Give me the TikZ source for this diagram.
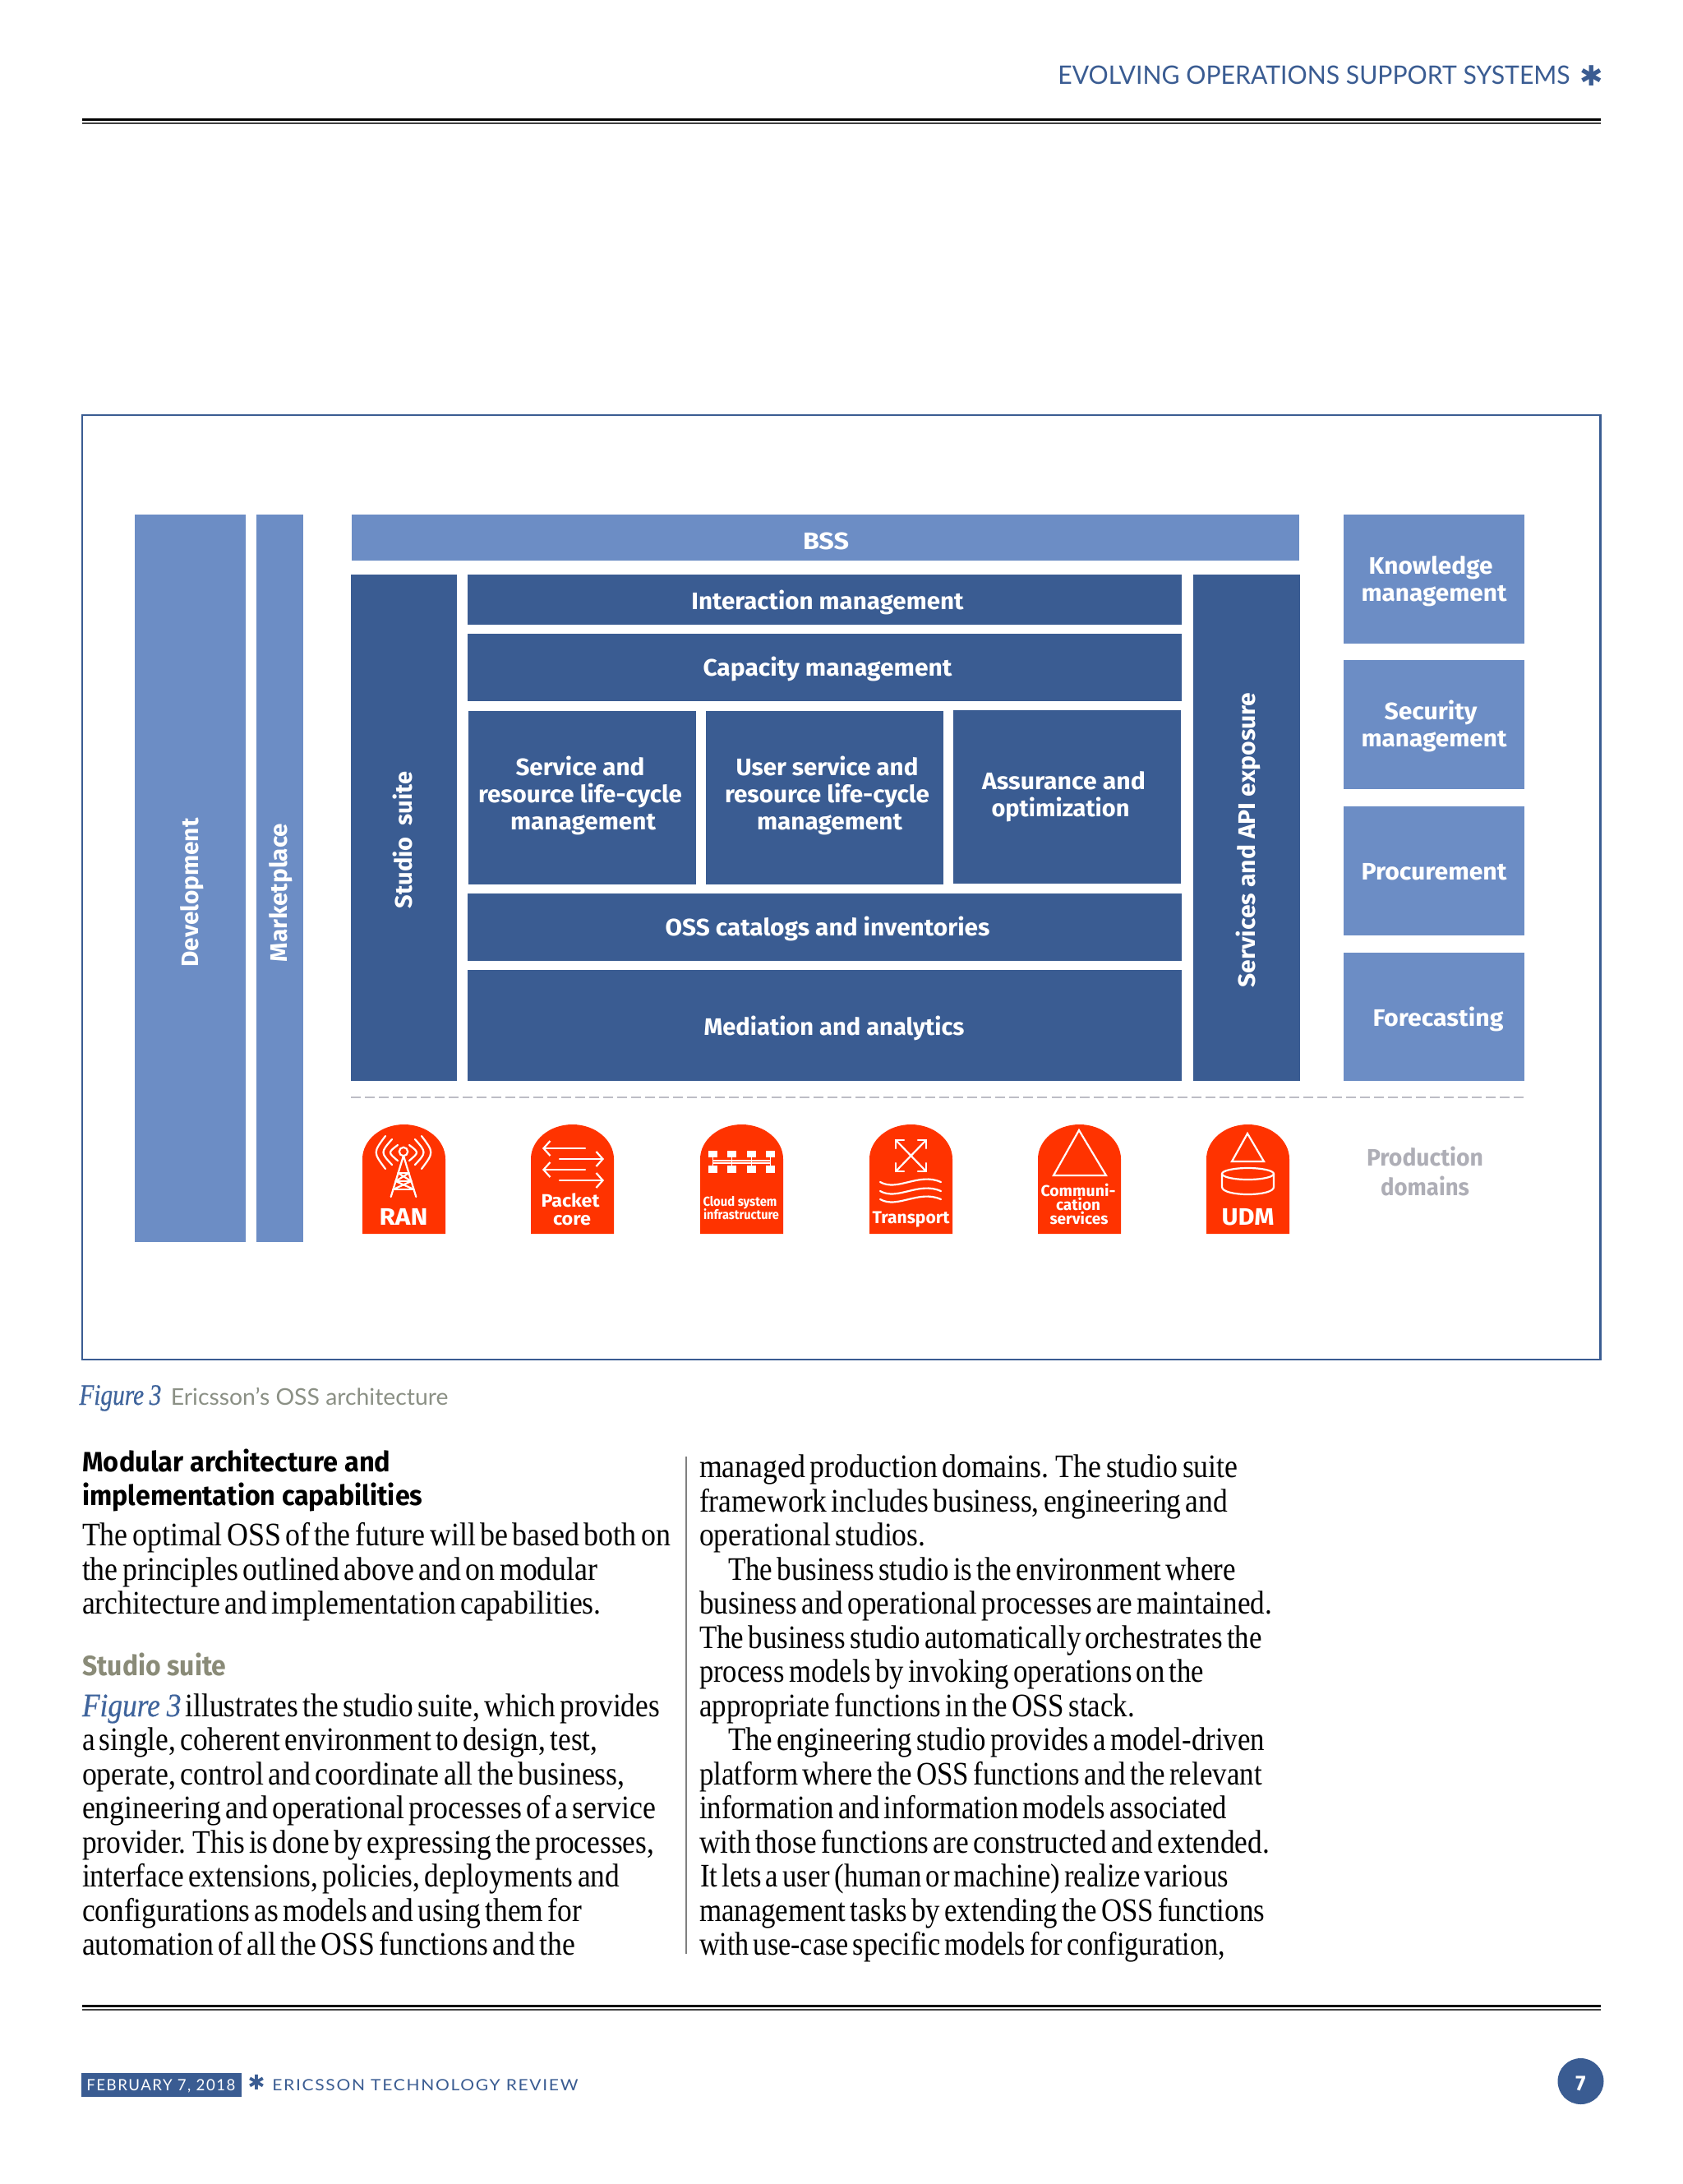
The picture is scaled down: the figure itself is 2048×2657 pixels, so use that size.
\documentclass[tikz,border=0pt]{standalone}
\usepackage{fontspec}
\usepackage{graphicx}
\usetikzlibrary{arrows.meta}
\setmainfont[WordSpace=0.6]{Liberation Serif}
\setsansfont{Lato}
\newfontfamily\spacedsans[LetterSpace=8]{Lato}
\newfontfamily\starfont{DejaVu Sans}
\newfontfamily\headf{Fira Sans}
\newfontfamily\lblf{Fira Sans}
\newfontfamily\figf[ItalicFeatures={FakeBold=0.5},WordSpace=0.9]{Liberation Serif}
\definecolor{darkblue}{HTML}{3A5C92}
\definecolor{lightblue}{HTML}{6C8DC5}
\definecolor{archred}{HTML}{FF3300}
\definecolor{figblue}{HTML}{3F649C}
\definecolor{olive}{HTML}{8A8B78}
\definecolor{capgray}{HTML}{8B9085}
\definecolor{prodgray}{HTML}{AEAEB6}
\definecolor{dashgray}{HTML}{BDBDC5}
\newcommand{\fitw}[2]{\resizebox{\dimexpr#1pt/2\relax}{\height}{#2}}
\newcommand{\bl}[5]{\node[bodytext] (#1) at (#2,#3) {\fitw{#4}{#5}};}
\tikzset{
  darkbox/.style={fill=darkblue,draw=none},
  lightbox/.style={fill=lightblue,draw=none},
  bodytext/.style={anchor=base west,inner sep=0pt,outer sep=0pt,text=black,yshift=-0.75pt,font=\rmfamily\fontsize{20}{20}\selectfont},
  headtext/.style={anchor=base west,inner sep=0pt,font=\headf\bfseries\fontsize{17}{17}\selectfont},
  lbl/.style={anchor=base,inner sep=0pt,text=white,align=center,font=\lblf\bfseries\fontsize{14.5}{16.5}\selectfont},
  vlbl/.style={lbl,rotate=90},
  archlbl/.style={anchor=base,inner sep=0pt,text=white,align=center,font=\lblf\bfseries\fontsize{#1}{#1}\selectfont},
  icon/.style={draw=white,line width=1.1pt,fill=none,line cap=round,line join=miter},
  barb/.style={icon,-{Straight Barb[length=4pt,width=9pt,line width=1.1pt]}},
  archshape/.style={fill=archred,draw=none},
}
\newcommand{\archat}[2]{\fill[archshape,shift={(#1,0)}] (0,1501) -- (0,1410) .. controls (0,1387) and (22.6,1368) .. (50.5,1368) .. controls (78.4,1368) and (101,1387) .. (101,1410) -- (101,1501) -- cycle;}
\begin{document}
\begin{tikzpicture}[x=0.5pt,y=-0.5pt]
\useasboundingbox (0,0) rectangle (2048,2657);
\fill[white] (0,0) rectangle (2048,2657);

% page header
\node[anchor=base west,inner sep=0pt,text=darkblue,font=\sffamily\fontsize{15.5}{15.5}\selectfont] (hdr) at (1287,102) {\fitw{623}{EVOLVING OPERATIONS SUPPORT SYSTEMS}};
\node[inner sep=0pt,text=darkblue,font=\starfont\fontsize{17}{17}\selectfont] (hdrstar) at (1937,92) {✱};
\draw[black,line width=1.5pt] (100,145) -- (1948,145);
\draw[black!75,line width=1pt] (100,150) -- (1948,150);

% figure frame
\draw[darkblue,line width=1.4pt] (100,505) rectangle (1947.5,1654);

% boxes
\fill[lightbox] (164,626) rectangle (299,1511);
\fill[lightbox] (312,626) rectangle (368.5,1511);
\fill[lightbox] (427.5,626) rectangle (1581,682);
\fill[darkbox] (427,699) rectangle (556,1315);
\fill[darkbox] (569,699) rectangle (1437.5,760);
\fill[darkbox] (569,771) rectangle (1437.5,853);
\fill[darkbox] (570,865) rectangle (847,1076);
\fill[darkbox] (859,865) rectangle (1148,1076);
\fill[darkbox] (1160,864) rectangle (1436.5,1075);
\fill[darkbox] (569,1087) rectangle (1437.5,1169);
\fill[darkbox] (569,1180) rectangle (1437.5,1315);
\fill[darkbox] (1452,699) rectangle (1581.5,1315);
\fill[lightbox] (1635,626) rectangle (1854.5,783);
\fill[lightbox] (1635,803) rectangle (1854.5,960);
\fill[lightbox] (1635,981) rectangle (1854.5,1138);
\fill[lightbox] (1635,1159) rectangle (1854.5,1315);

% labels
\node[lbl] (bss) at (1005,668) {\fitw{56}{BSS}};
\node[lbl] (inter) at (1007,741) {\fitw{331}{Interaction management}};
\node[lbl] (cap) at (1007,822) {\fitw{303}{Capacity management}};
\node[lbl] (serv) at (706,1009) {\fitw{157}{Service and}\\\fitw{248}{resource life-cycle}\\\hspace*{3.5pt}\fitw{177}{management}};
\node[lbl] (user) at (1006.5,1009) {\fitw{222}{User service and}\\\fitw{249}{resource life-cycle}\\\hspace*{3pt}\fitw{177}{management}};
\node[lbl] (assur) at (1292,993) {\hspace*{2.5pt}\fitw{199}{Assurance and}\\\fitw{168}{optimization}\hspace*{1.5pt}};
\node[lbl] (oss) at (1007,1138) {\fitw{395}{OSS catalogs and inventories}};
\node[lbl] (med) at (1015,1259.5) {\fitw{317}{Mediation and analytics}};
\node[lbl] (know) at (1745,731) {\fitw{151}{Knowledge}\hspace*{4pt}\\\fitw{177}{management}};
\node[lbl] (sec) at (1745,908) {\fitw{113}{Security}\hspace*{4pt}\\\fitw{177}{management}};
\node[lbl] (proc) at (1745,1070) {\fitw{177}{Procurement}};
\node[lbl] (fore) at (1750,1248) {\fitw{159}{Forecasting}};
\node[vlbl] (dev) at (241.5,1086) {\fitw{181}{Development}};
\node[vlbl] (market) at (349.5,1086) {\fitw{168}{Marketplace}};
\node[vlbl] (studio) at (501,1022) {\fitw{166}{Studio\ \ suite}};
\node[vlbl] (api) at (1527,1022) {\fitw{359}{Services and API exposure}};

% dashed separator
\draw[dashgray,line width=1.25pt,dash pattern=on 6pt off 2.525pt] (427,1335) -- (1854,1335);

% RAN
\archat{441}{}
\begin{scope}[shift={(491,0)}]
  \foreach \s in {-1,1} {
    \draw[icon] (\s*22,1382) .. controls (\s*37,1402) .. (\s*22,1422);
    \draw[icon] (\s*14,1386) .. controls (\s*28,1402) .. (\s*14,1417);
    \draw[icon] (\s*7,1393) .. controls (\s*19,1402) .. (\s*7,1412);
    \draw[icon] (0,1406) -- (\s*15.3,1456);
    \draw[icon] (\s*6.6,1427) -- (-\s*9.5,1437);
    \draw[icon] (\s*9.5,1437) -- (-\s*12.6,1447);
  }
  \draw[icon] (-6.6,1427) -- (6.6,1427);
  \draw[icon] (-9.5,1437) -- (9.5,1437);
  \draw[icon] (-12.6,1447) -- (12.6,1447);
  \draw[icon] (0,1401) circle [radius=2.6pt];
\end{scope}
\node[archlbl=14.5] (ran) at (491,1490) {\fitw{59}{RAN}};

% Packet core
\archat{646}{}
\draw[barb] (712,1397) -- (660,1397);
\draw[barb] (681,1410) -- (735,1410);
\draw[barb] (712,1423) -- (660,1423);
\draw[barb] (681,1436) -- (735,1436);
\node[archlbl=11] (pk1) at (694,1468) {\fitw{71}{Packet}};
\node[archlbl=11] (pk2) at (696,1490) {\fitw{46}{core}};

% Cloud system infrastructure
\archat{852}{}
\foreach \x in {862,885,909,932} {
  \fill[white] (\x,1399.5) rectangle +(11,8.5);
  \fill[white] (\x,1417.5) rectangle +(11,9);
  \draw[white,line width=.6pt] (\x+5.5,1408) -- (\x+5.5,1417.5);
}
\draw[white,line width=.6pt] (867.5,1412) -- (937.5,1412);
\draw[white,line width=.6pt] (867.5,1415) -- (937.5,1415);
\node[archlbl=8] (cl1) at (900.5,1467) {\fitw{90}{Cloud system}};
\node[archlbl=8] (cl2) at (902,1483) {\fitw{92}{infrastructure}};

% Transport
\archat{1058}{}
\draw[icon] (1091,1388) -- (1126,1424);
\draw[icon] (1126,1388) -- (1091,1424);
\draw[icon] (1090,1397) -- (1090,1387) -- (1100,1387);
\draw[icon] (1127,1397) -- (1127,1387) -- (1117,1387);
\draw[icon] (1090,1415) -- (1090,1425) -- (1100,1425);
\draw[icon] (1127,1415) -- (1127,1425) -- (1117,1425);
\foreach \d in {0,11,21} {
  \draw[icon,shift={(0,\d)}] (1071,1438) .. controls (1092,1450) and (1118,1426) .. (1145,1438);
}
\node[archlbl=10.5] (tr) at (1108.5,1488) {\fitw{94}{Transport}};

% Communication services
\archat{1263}{}
\draw[icon,line join=miter] (1313,1375) -- (1282,1430) -- (1346,1430) -- cycle;
\node[archlbl=9.5] (co1) at (1312,1455) {\fitw{91}{Communi-}};
\node[archlbl=9.5] (co2) at (1312,1472) {\fitw{54}{cation}};
\node[archlbl=9.5] (co3) at (1313,1489) {\fitw{71}{services}};

% UDM
\archat{1468}{}
\draw[icon] (1518,1379) -- (1499,1413) -- (1538,1413) -- cycle;
\draw[icon] (1518.5,1428) ellipse [x radius=15.75pt,y radius=3.5pt];
\draw[icon] (1487,1428) -- (1487,1444) .. controls (1487,1456) and (1550,1456) .. (1550,1444) -- (1550,1428);
\node[archlbl=14.5] (udm) at (1518.5,1490) {\fitw{64}{UDM}};

% production domains
\node[lbl,text=prodgray,font=\lblf\bfseries\fontsize{14.5}{18}\selectfont] (prod) at (1734,1454) {\fitw{142}{Production}\\\fitw{108}{domains}};

% caption
\node[anchor=base west,inner sep=0pt,text=figblue,font=\figf\itshape\fontsize{18}{18}\selectfont] (figcap) at (96,1709) {\fitw{100}{Figure 3}};
\node[anchor=base west,inner sep=0pt,text=capgray,font=\sffamily\fontsize{14}{14}\selectfont] (cap2) at (207.5,1709) {\fitw{337.5}{Ericsson’s OSS architecture}};

% left column
\node[headtext] (h1) at (100,1790) {\fitw{375}{Modular architecture and}};
\node[headtext] (h2) at (100,1831) {\fitw{414}{implementation capabilities}};
\bl{a1}{100}{1879}{716}{The optimal OSS of the future will be based both on}
\bl{a2}{100}{1920.5}{627.5}{the principles outlined above and on modular}
\bl{a3}{100}{1962}{631.6}{architecture and implementation capabilities.}
\node[headtext,text=olive] (h3) at (100,2038) {\fitw{175}{Studio suite}};
\bl{b1}{100}{2086.5}{703}{{\color{figblue}\figf\itshape Figure 3} illustrates the studio suite, which provides}
\bl{b2}{100}{2128}{627.5}{a single, coherent environment to design, test,}
\bl{b3}{100}{2169.5}{660.6}{operate, control and coordinate all the business,}
\bl{b4}{100}{2211}{698}{engineering and operational processes of a service}
\bl{b5}{100}{2252.5}{696}{provider. This is done by expressing the processes,}
\bl{b6}{100}{2294}{654}{interface extensions, policies, deployments and}
\bl{b7}{100}{2335.5}{608}{configurations as models and using them for}
\bl{b8}{100}{2377}{600}{automation of all the OSS functions and the}

% column rule
\draw[black!50,line width=.75pt] (835,1772) -- (835,2377);

% right column
\bl{c1}{851}{1796}{655.6}{managed production domains. The studio suite}
\bl{c2}{851}{1837.5}{643}{framework includes business, engineering and}
\bl{c3}{851}{1879}{275.5}{operational studios.}
\bl{c4}{886}{1920.5}{618}{The business studio is the environment where}
\bl{c5}{851}{1962}{697}{business and operational processes are maintained.}
\bl{c6}{851}{2003.5}{684.7}{The business studio automatically orchestrates the}
\bl{c7}{851}{2045}{614}{process models by invoking operations on the}
\bl{c8}{851}{2086.5}{530}{appropriate functions in the OSS stack.}
\bl{c9}{886}{2128}{653}{The engineering studio provides a model-driven}
\bl{c10}{851}{2169.5}{684.7}{platform where the OSS functions and the relevant}
\bl{c11}{851}{2211}{642}{information and information models associated}
\bl{c12}{851}{2252.5}{694}{with those functions are constructed and extended.}
\bl{c13}{852}{2294}{643}{It lets a user (human or machine) realize various}
\bl{c14}{851}{2335.5}{688}{management tasks by extending the OSS functions}
\bl{c15}{851}{2377}{640}{with use-case specific models for configuration,}

% footer
\draw[black,line width=1.5pt] (100,2440) -- (1948,2440);
\draw[black!75,line width=1pt] (100,2445) -- (1948,2445);
\fill[darkblue] (99,2522) rectangle (294,2551);
\node[anchor=base west,inner sep=0pt,text=white,font=\spacedsans\fontsize{9.5}{9.5}\selectfont] (date) at (105,2543) {\fitw{181}{FEBRUARY 7, 2018}};
\node[inner sep=0pt,text=darkblue,font=\starfont\fontsize{12.5}{12.5}\selectfont] (ftstar) at (312,2533) {✱};
\node[anchor=base west,inner sep=0pt,text=darkblue,font=\spacedsans\fontsize{9.5}{9.5}\selectfont] (review) at (331,2543) {\fitw{372}{ERICSSON TECHNOLOGY REVIEW}};
\fill[darkblue] (1923.5,2532) circle [radius=14pt];
\node[inner sep=0pt,text=white,font=\lblf\bfseries\fontsize{13}{13}\selectfont] (pagenum) at (1923.5,2535) {7};
\end{tikzpicture}
\end{document}
